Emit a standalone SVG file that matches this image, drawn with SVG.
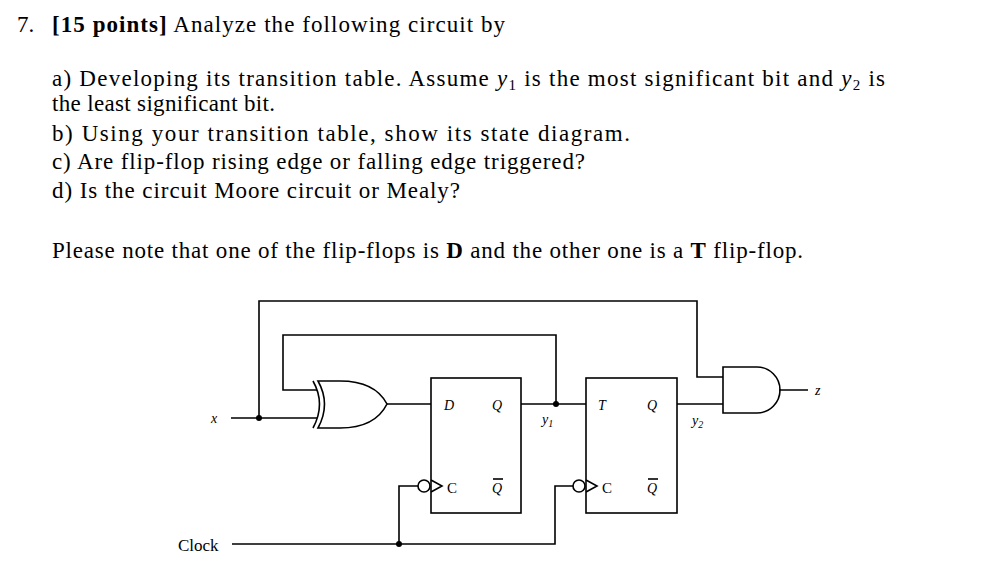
<svg xmlns="http://www.w3.org/2000/svg" width="981" height="584" viewBox="0 0 981 584">
<style>
.t{font-family:"Liberation Serif",serif;font-size:23px;fill:#000}
.l{font-family:"Liberation Serif",serif;font-size:14px;font-style:italic;fill:#000}
.w{fill:none;stroke:#000;stroke-width:1.6}
</style>
<rect width="981" height="584" fill="#fff"/>
<g id="text">
<text class="t" x="17" y="32">7.</text>
<text class="t" x="52" y="32" textLength="453" lengthAdjust="spacing"><tspan font-weight="bold">[15 points]</tspan> Analyze the following circuit by</text>
<text class="t" x="52" y="86" textLength="833" lengthAdjust="spacing">a) Developing its transition table. Assume <tspan font-style="italic">y</tspan><tspan font-size="15" dy="4">1</tspan><tspan dy="-4"> is the most significant bit and </tspan><tspan font-style="italic">y</tspan><tspan font-size="15" dy="4">2</tspan><tspan dy="-4"> is</tspan></text>
<text class="t" x="52" y="111" textLength="223" lengthAdjust="spacing">the least significant bit.</text>
<text class="t" x="52" y="141" textLength="578" lengthAdjust="spacing">b) Using your transition table, show its state diagram.</text>
<text class="t" x="52" y="169" textLength="533" lengthAdjust="spacing">c) Are flip-flop rising edge or falling edge triggered?</text>
<text class="t" x="52" y="198" textLength="408" lengthAdjust="spacing">d) Is the circuit Moore circuit or Mealy?</text>
<text class="t" x="52" y="258" textLength="751" lengthAdjust="spacing">Please note that one of the flip-flops is <tspan font-weight="bold">D</tspan> and the other one is a <tspan font-weight="bold">T</tspan> flip-flop.</text>
</g>
<g id="connectors">
<path class="w" d="M231 418H317 M259 418V301H697V377H723 M556 404V335H283V390H317 M387 404H431 M521 404H586 M677 404H723 M779 390H808 M232 544H555V486H573 M399 544V486H418"/>
<circle cx="259" cy="418" r="3"/><circle cx="556" cy="404" r="3"/><circle cx="399" cy="544" r="3"/>
</g>
<g id="xor">
<path class="w" d="M313 381Q326 404 313 428"/>
<path class="w" d="M318 381Q331 404 318 428H340Q375 428 387 404Q375 381 340 381Z"/>
</g>
<g id="dff">
<rect class="w" x="431" y="378" width="90" height="135"/>
<circle class="w" cx="424" cy="486" r="6"/>
<path class="w" d="M431 480L442 486L431 492"/>
<text class="l" x="444" y="410">D</text><text class="l" x="492" y="410">Q</text>
<text x="447" y="493" font-family="Liberation Serif" font-size="15">C</text>
<text class="l" x="492" y="493">Q</text><path class="w" d="M493 479H503" stroke-width="1"/>
</g>
<g id="tff">
<rect class="w" x="586" y="378" width="91" height="135"/>
<circle class="w" cx="579" cy="486" r="6"/>
<path class="w" d="M586 480L597 486L586 492"/>
<text class="l" x="598" y="410">T</text><text class="l" x="647" y="410">Q</text>
<text x="602" y="493" font-family="Liberation Serif" font-size="15">C</text>
<text class="l" x="647" y="493">Q</text><path class="w" d="M648 479H658" stroke-width="1"/>
</g>
<g id="and">
<path class="w" d="M723 367H757A23 23 0 0 1 757 413H723Z"/>
</g>
<g id="labels">
<text class="l" x="211" y="423">x</text>
<text class="l" x="815" y="395">z</text>
<text class="l" x="542" y="424">y<tspan font-size="10" dy="3">1</tspan></text>
<text class="l" x="692" y="425">y<tspan font-size="10" dy="3">2</tspan></text>
<text x="178" y="551" font-family="Liberation Serif" font-size="17">Clock</text>
</g>
</svg>
